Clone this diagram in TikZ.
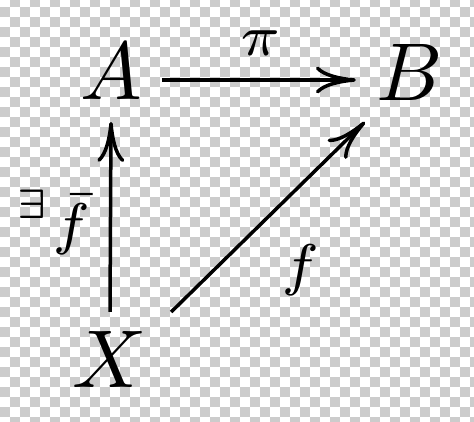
\documentclass[tikz,border=0pt]{standalone}
\usetikzlibrary{arrows.meta}
\tikzset{
  obj/.style={inner sep=0pt, outer sep=0pt, anchor=base, scale=8.2},
  lbl/.style={inner sep=0pt, outer sep=0pt, anchor=base, scale=8.2},
  arr/.style={line width=3.5pt, -{Computer Modern Rightarrow[length=40pt,width=27pt,line width=3.5pt]}},
  chk/.style={fill=gray!40}
}
\begin{document}
\begin{tikzpicture}[x=1pt,y=-1pt]
\useasboundingbox (0,0) rectangle (474,421);
\begin{scope}
\clip (0,0) rectangle (474,421);
\fill[white] (0,0) rectangle (474,421);
\foreach \i in {0,...,48} {
  \foreach \j in {0,...,43} {
    \pgfmathtruncatemacro\p{mod(\i+\j,2)}
    \ifnum\p=1
      \fill[chk] (-0.5+10*\i,-3.5+10*\j) rectangle ++(10,10);
    \fi
  }
}
\end{scope}
\node[obj] (A) at (111,99) {$A$};
\node[obj] (B) at (410,100) {$B$};
\node[obj] (X) at (110,387) {$X$};
\node[lbl] (pi) at (261,55) {$\scriptstyle\pi$};
\node[lbl] (f) at (301,284) {$\scriptstyle f$};
\node[lbl] (fb) at (53,243) {$\scriptstyle{}^{\exists}\bar f$};
\draw[arr] ([shift={(20,9)}]A.east) -- ([shift={(-21,8)}]B.west);
\draw[arr] ([yshift=19pt]X.north) -- ([yshift=-23pt]A.south);
\draw[arr] ([shift={(24,-19)}]X.north east) -- ([shift={(-12,22)}]B.south west);
\end{tikzpicture}
\end{document}
